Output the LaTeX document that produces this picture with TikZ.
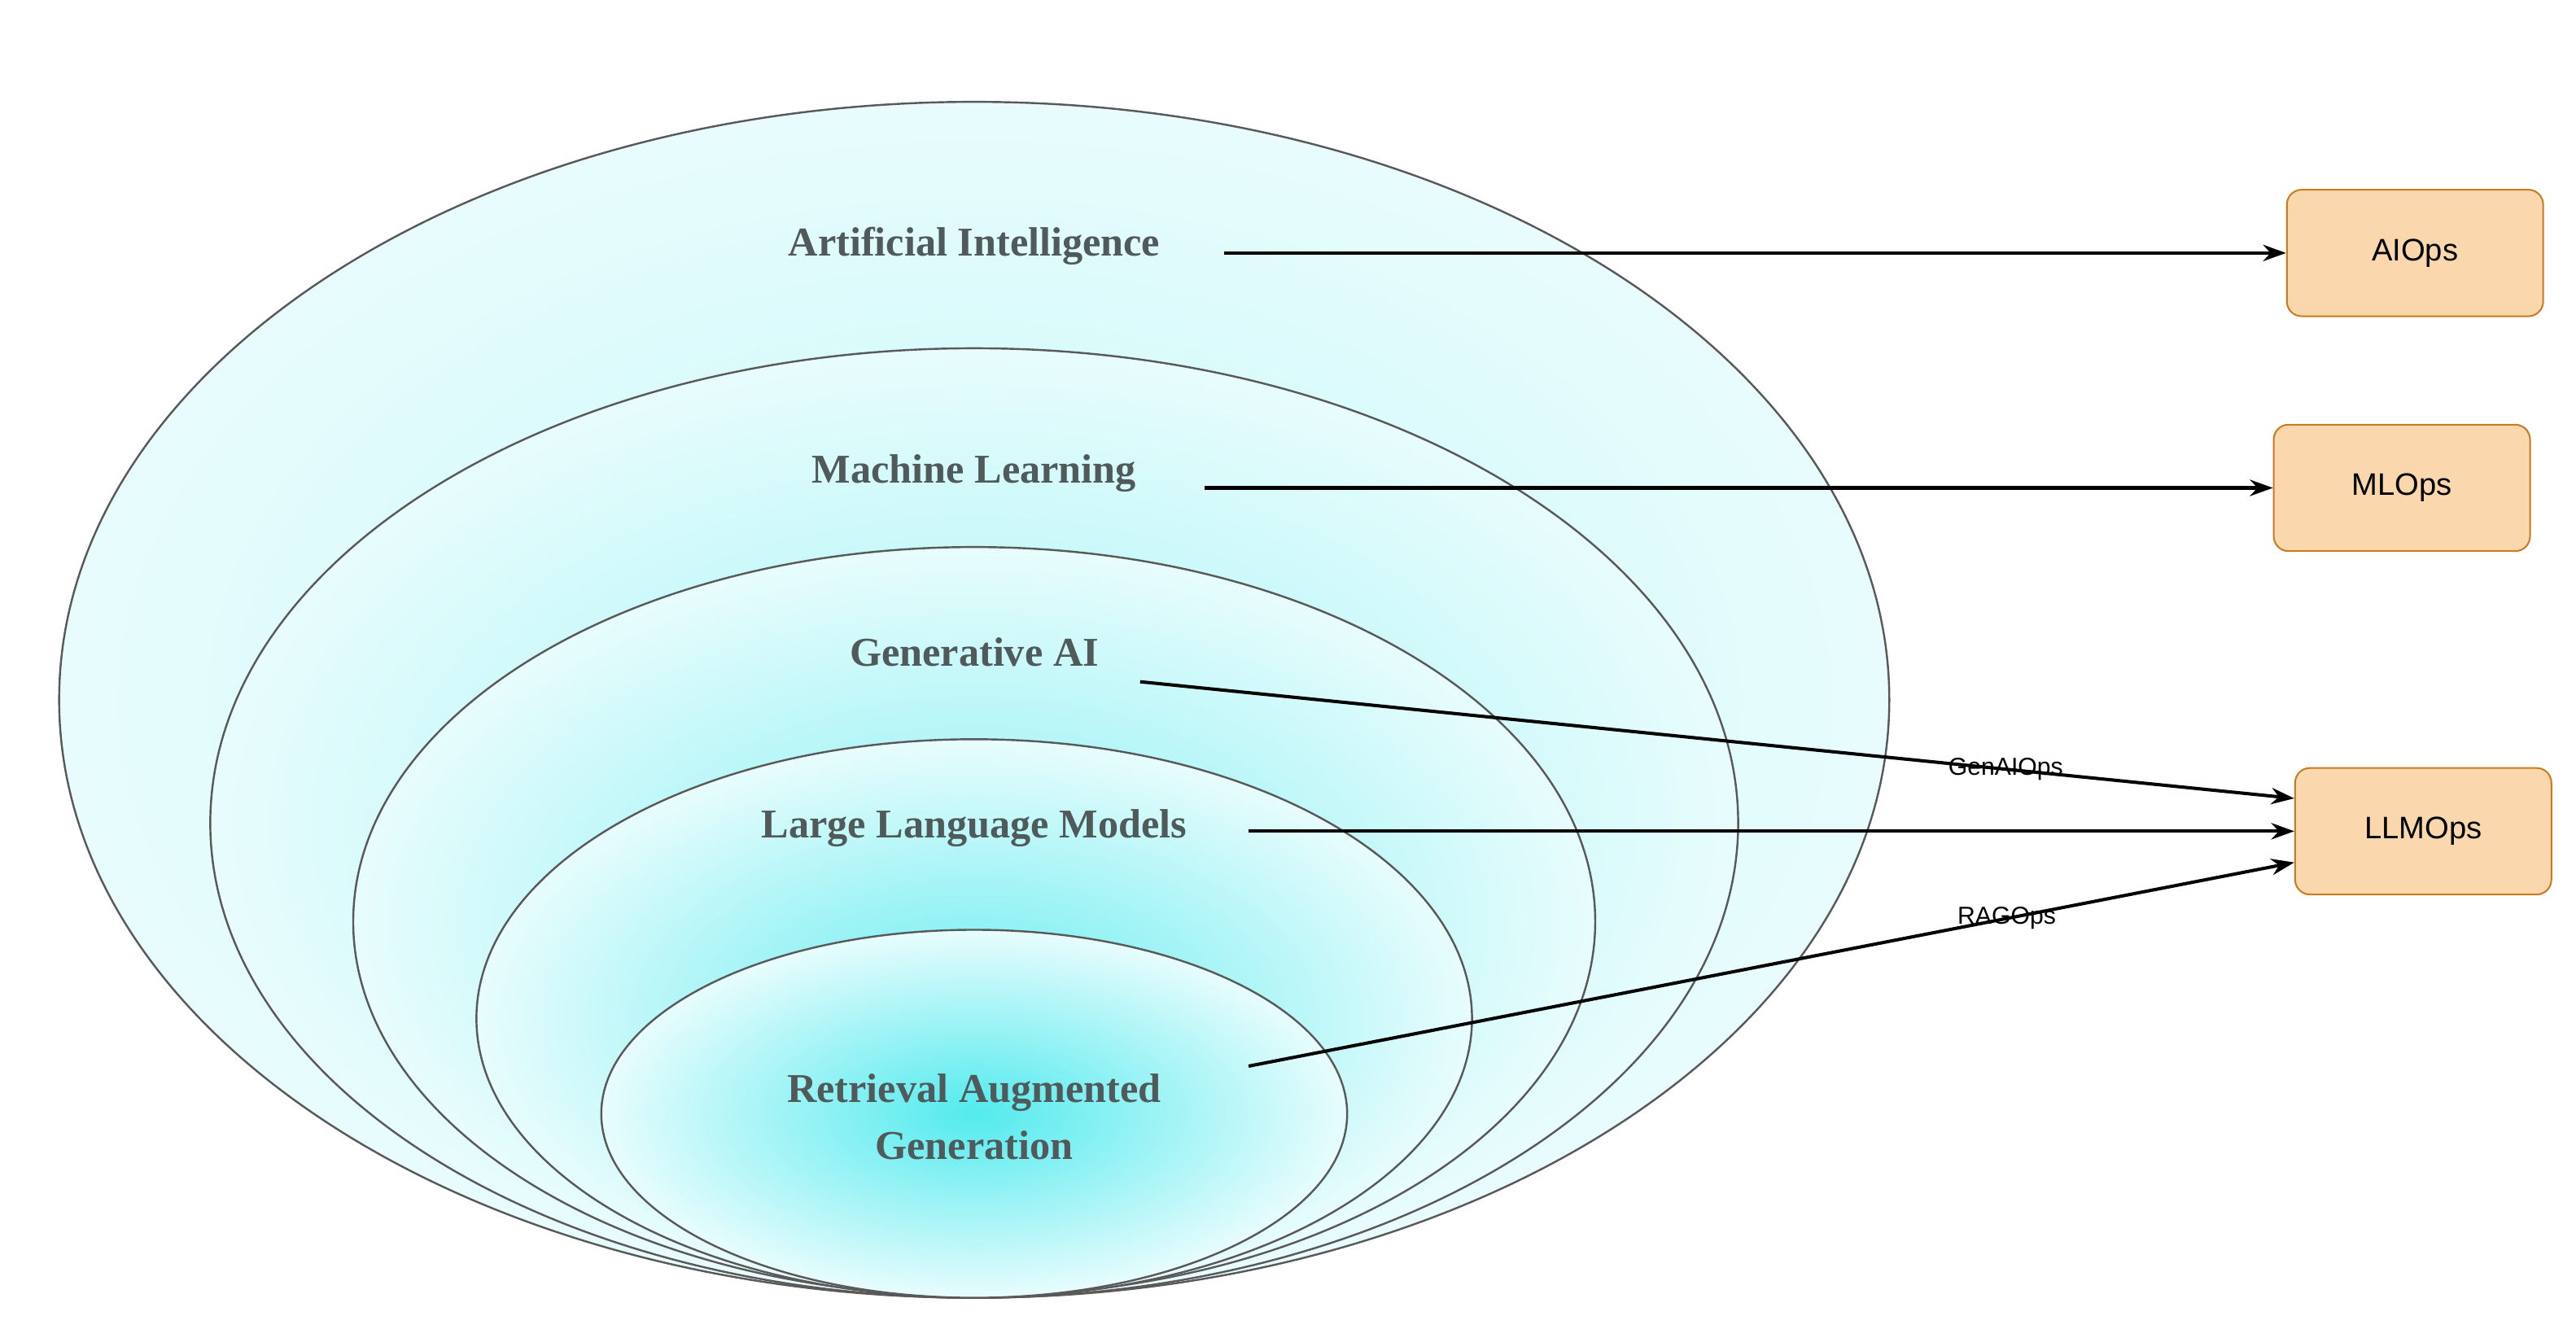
\documentclass[tikz,border=0pt]{standalone}
\usepackage{fontspec}
\setmainfont{Liberation Serif}
\setsansfont{Liberation Sans}
\usetikzlibrary{arrows.meta}
\definecolor{mycyan}{RGB}{64,232,236}
\definecolor{boxfill}{HTML}{FAD7AC}
\definecolor{boxdraw}{HTML}{C97B1E}
\definecolor{txt}{RGB}{80,90,90}
\begin{document}
\begin{tikzpicture}[x=1bp,y=-1bp,
  ell/.style={draw=black!65,line width=1.2bp,shading=radial,outer color=mycyan!12},
  lbl/.style={font=\fontsize{25}{35}\selectfont\bfseries,text=txt,align=center},
  opsbox/.style={draw=boxdraw,fill=boxfill,rounded corners=9bp,line width=1bp,minimum width=156bp,minimum height=77bp,font=\sffamily\fontsize{19}{22}\selectfont},
  arr/.style={-{Stealth[length=14bp,width=10bp]},line width=2bp},
  elbl/.style={font=\sffamily\fontsize{15}{18}\selectfont,inner sep=1bp}]
\useasboundingbox (0,0) rectangle (1568,809);
\path[ell,inner color=mycyan!30] (593,426) ellipse [x radius=557,y radius=364];
\path[ell,inner color=mycyan!50] (593,501) ellipse [x radius=465,y radius=289];
\path[ell,inner color=mycyan!65] (593,561) ellipse [x radius=378,y radius=228];
\path[ell,inner color=mycyan!80] (593,620) ellipse [x radius=303,y radius=170];
\path[ell,inner color=mycyan!90] (593,678) ellipse [x radius=227,y radius=112];
\node[lbl] (ai) at (593,150) {Artificial Intelligence};
\node[lbl] (ml) at (593,288) {Machine Learning};
\node[lbl] (gen) at (593,397) {Generative AI};
\node[lbl] (llm) at (593,504) {Large Language Models};
\node[lbl] (rag) at (593,680) {Retrieval Augmented\\Generation};
\coordinate (aie) at (745,154);
\coordinate (mle) at (733,297);
\coordinate (gene) at (694,415);
\coordinate (llme) at (760,506);
\coordinate (rage) at (760,649);
\node[opsbox] (aiops) at (1470,154) {AIOps};
\node[opsbox] (mlops) at (1462,297) {MLOps};
\node[opsbox] (llmops) at (1475,506) {LLMOps};
\draw[arr] (aie) -- (aiops.west);
\draw[arr] (mle) -- (mlops.west);
\draw[arr] (gene) -- node[elbl,pos=0.75] {GenAIOps} ([yshift=20bp]llmops.west);
\draw[arr] (llme) -- (llmops.west);
\draw[arr] (rage) -- node[elbl,pos=0.725] {RAGOps} ([yshift=-19bp]llmops.west);
\end{tikzpicture}
\end{document}
